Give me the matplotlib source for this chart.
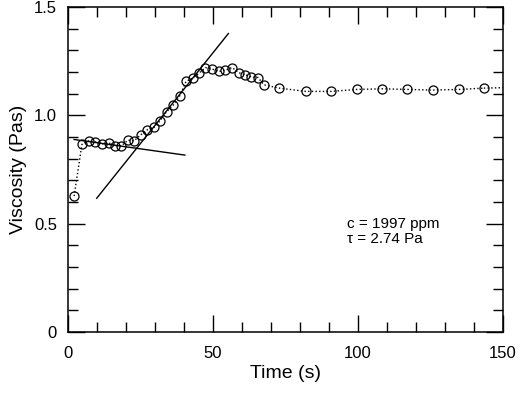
import matplotlib
matplotlib.use("Agg")
from matplotlib import pyplot as plt
from matplotlib.ticker import MultipleLocator

plt.rcParams['font.family'] = ['Liberation Sans', 'DejaVu Sans']

# measured viscosity vs time
time = [2.1, 4.8, 7.1, 9.4, 11.7, 14.0, 16.1, 18.4, 20.7, 22.8, 25.1, 27.4,
        29.7, 31.7, 34.0, 36.3, 38.6, 40.7, 43.0, 45.3, 47.4, 49.7, 52.0,
        54.3, 56.6, 58.9, 61.1, 63.2, 65.5, 67.6, 72.9, 82.0, 90.8, 99.5,
        108.3, 117.0, 125.8, 134.7, 143.4]
viscosity = [0.628, 0.866, 0.883, 0.878, 0.868, 0.874, 0.860, 0.860, 0.886,
             0.883, 0.911, 0.934, 0.945, 0.975, 1.017, 1.048, 1.092, 1.157,
             1.172, 1.197, 1.221, 1.214, 1.203, 1.209, 1.221, 1.197, 1.188,
             1.178, 1.175, 1.141, 1.126, 1.111, 1.111, 1.120, 1.123, 1.120,
             1.117, 1.120, 1.126]
# tail of dotted line runs to the right axis
tail_t = [143.4, 150]
tail_v = [1.126, 1.128]

# tangent lines
plateau_t = [2.1, 40.3]
plateau_v = [0.889, 0.817]
rise_t = [9.9, 55.3]
rise_v = [0.618, 1.378]

fig = plt.figure(figsize=(5.2, 3.94), dpi=100)
ax = fig.add_axes([0.1308, 0.157, 0.8365, 0.825])

ax.plot(time, viscosity, color="black", linestyle=":", linewidth=1.0,
        marker="o", markersize=6.5, markerfacecolor="none",
        markeredgecolor="black", markeredgewidth=0.9)
ax.plot(tail_t, tail_v, color="black", linestyle=":", linewidth=1.0)
ax.plot(plateau_t, plateau_v, color="black", linewidth=1.0)
ax.plot(rise_t, rise_v, color="black", linewidth=1.0)

ax.set_xlim(0, 150)
ax.set_ylim(0, 1.5)
ax.xaxis.set_major_locator(MultipleLocator(50))
ax.xaxis.set_minor_locator(MultipleLocator(10))
ax.yaxis.set_minor_locator(MultipleLocator(0.1))
ax.set_yticks([0, 0.5, 1.0, 1.5])
ax.set_yticklabels(["0", "0.5", "1.0", "1.5"])

ax.tick_params(which="both", direction="in", top=True, right=True,
               labelsize=12, width=1.0)
ax.tick_params(axis="x", pad=10)
ax.tick_params(axis="y", pad=8)
ax.tick_params(which="major", length=12)
ax.tick_params(which="minor", length=7)
for s in ax.spines.values():
    s.set_linewidth(1.1)

ax.set_xlabel("Time (s)", fontsize=14, labelpad=3)
ax.set_ylabel("Viscosity (Pas)", fontsize=14, labelpad=5)

ax.text(96.2, 0.48, "c = 1997 ppm", fontsize=11, ha="left", va="baseline")
ax.text(96.2, 0.41, "\u03c4 = 2.74 Pa", fontsize=11, ha="left", va="baseline")

fig.savefig("out.png", dpi=100)
